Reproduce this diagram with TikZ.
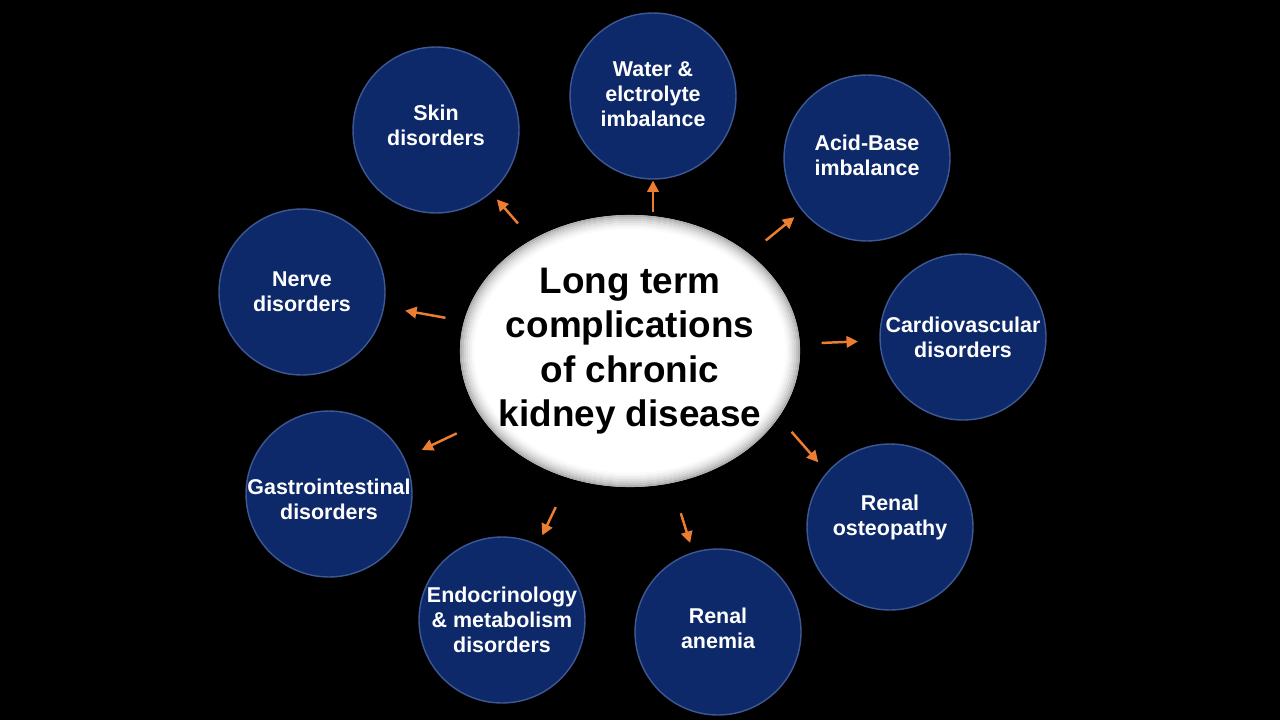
\documentclass[tikz,border=0pt]{standalone}
\usepackage{fontspec}
\setmainfont{Liberation Sans}
\usetikzlibrary{shapes.geometric,arrows.meta}

\definecolor{navy}{RGB}{14,41,106}
\definecolor{navyrim}{RGB}{62,88,148}
\definecolor{arrorange}{RGB}{237,125,49}

\tikzset{
  bubble/.style={circle, fill=navy, draw=navyrim, line width=0.8pt, minimum size=3.32cm, inner sep=0pt},
  bubtext/.style={text=white, font=\bfseries\fontsize{12.2}{14.2}\selectfont, align=center, inner sep=0pt},
  hub/.style={ellipse, fill=white, minimum width=6.8cm, minimum height=5.44cm, inner sep=0pt},
  hubtext/.style={font=\bfseries\fontsize{21}{25.2}\selectfont, align=center, inner sep=0pt},
  link/.style={draw=arrorange, line width=1.4pt, -{Triangle[length=6.5pt,width=6.5pt]}}
}

\begin{document}
\begin{tikzpicture}[x=0.02cm,y=-0.02cm]
\useasboundingbox (0,0) rectangle (1280,720);
\fill[black] (0,0) rectangle (1280,720);

% centre
\node[hub] (ell) at (630,351) {};
\foreach \i/\g in {0/62,1/48,2/36,3/26,4/17,5/10,6/4}
  \draw[gray!\g, line width=1.2pt] (ell.center) ellipse ({169-\i*2} and {135-\i*2});
\node[hubtext] (ell-t) at (ell) {Long term\\complications\\of chronic\\kidney disease};

% complications
\node[bubble] (water) at (653,96) {};
\node[bubtext] (water-t) at ([yshift=1pt]water) {Water \&\\elctrolyte\\imbalance};
\node[bubble] (acid) at (867,158) {};
\node[bubtext] (acid-t) at ([yshift=1.7pt]acid) {Acid-Base\\imbalance};
\node[bubble] (cardio) at (963,337) {};
\node[bubtext] (cardio-t) at (cardio) {Cardiovascular\\disorders};
\node[bubble] (osteo) at (890,527) {};
\node[bubtext] (osteo-t) at ([yshift=5.4pt]osteo) {Renal\\osteopathy};
\node[bubble] (anemia) at (718,632) {};
\node[bubtext] (anemia-t) at ([yshift=2pt]anemia) {Renal\\anemia};
\node[bubble] (endo) at (502,620) {};
\node[bubtext] (endo-t) at (endo) {Endocrinology\\\& metabolism\\disorders};
\node[bubble] (gastro) at (329,494) {};
\node[bubtext] (gastro-t) at ([yshift=-3pt]gastro) {Gastrointestinal\\disorders};
\node[bubble] (nerve) at (302,292) {};
\node[bubtext] (nerve-t) at (nerve) {Nerve\\disorders};
\node[bubble] (skin) at (436,130) {};
\node[bubtext] (skin-t) at ([yshift=2.8pt]skin) {Skin\\disorders};

% arrows
\draw[link, shorten <=1.7pt, shorten >=0.5pt] (water |- ell.north) -- (water);
\draw[link, shorten <=12pt, shorten >=5.7pt] (ell) -- (acid);
\draw[link, shorten <=12.3pt, shorten >=12.2pt] (ell) -- (cardio);
\draw[link, shorten <=11pt, shorten >=7.4pt] (ell.-24) -- (osteo.139);
\draw[link, shorten <=17.9pt, shorten >=5.5pt] (ell) -- (anemia);
\draw[link, shorten <=18.1pt, shorten >=5.7pt] (ell) -- (endo);
\draw[link, shorten <=16.9pt, shorten >=10.8pt] (ell) -- (gastro);
\draw[link, shorten <=10.6pt, shorten >=12pt] (ell) -- (nerve);
\draw[link, shorten <=12.2pt, shorten >=4.9pt] (ell) -- (skin);
\end{tikzpicture}
\end{document}
